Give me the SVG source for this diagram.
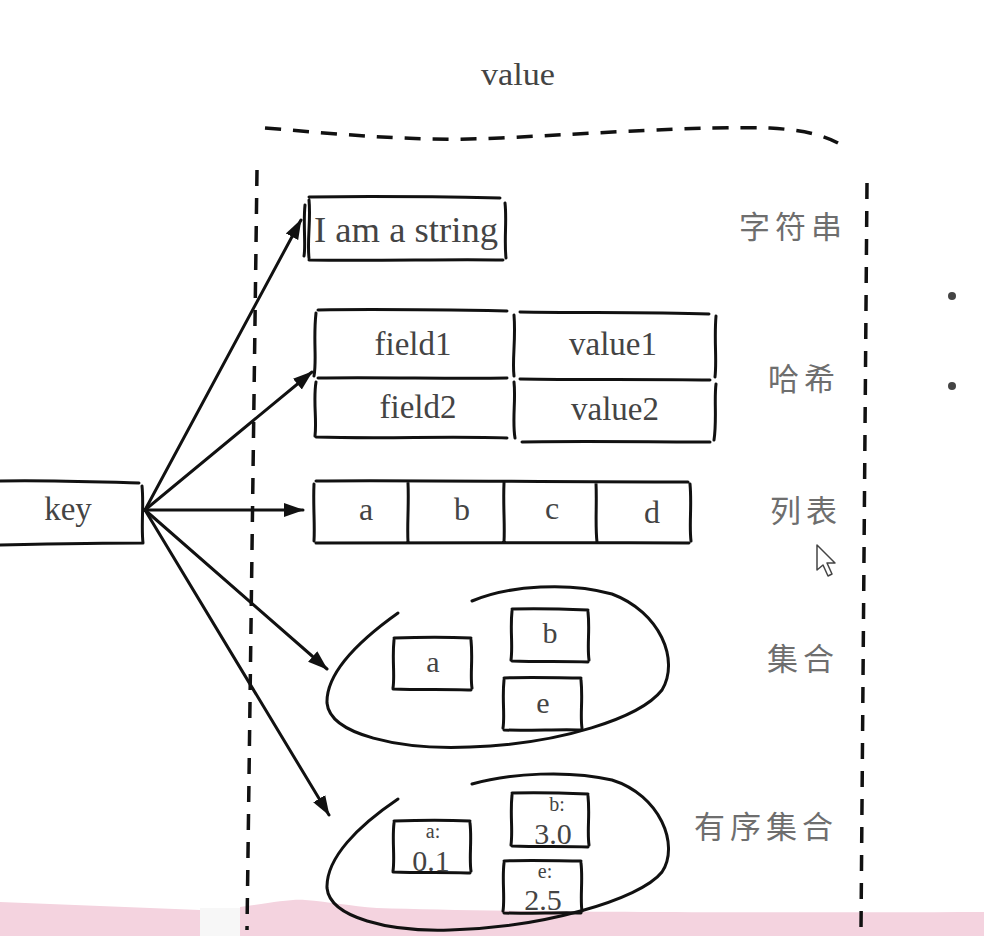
<svg xmlns="http://www.w3.org/2000/svg" width="984" height="936" viewBox="0 0 984 936">
<defs>
<style>
.ln{fill:none;stroke:#111;stroke-width:3;stroke-linecap:round;stroke-linejoin:round}
.ds{fill:none;stroke:#111;stroke-width:3.5;stroke-linecap:butt;stroke-dasharray:16 12}
.en{font-family:"Liberation Serif","DejaVu Serif",serif;fill:#444;text-anchor:middle}
.cn{font-family:"Noto Sans CJK SC","Noto Sans CJK TC",sans-serif;fill:#6e6e6e;font-size:31px;letter-spacing:5px}
.ar{fill:none;stroke:#111;stroke-width:3;stroke-linecap:round}
</style>
<marker id="ah" markerUnits="userSpaceOnUse" markerWidth="20" markerHeight="16" refX="19" refY="8" orient="auto">
<path d="M0,1 L20,8 L0,15 z" fill="#111"/>
</marker>
</defs>
<rect width="984" height="936" fill="#fff"/>
<g id="screen-band">
<path d="M0,902 L200,910 L200,936 L0,936 Z" fill="#f4d3df"/>
<rect x="200" y="908" width="40" height="28" fill="#f7f7f7"/>
<path d="M240,907 C270,903 290,899 305,900 C330,902 350,906 377,908 C500,912 700,913 984,912 L984,936 L240,936 Z" fill="#f4d3df"/>
</g>
<g id="value-frame">
<text class="en" x="518" y="85" font-size="32" textLength="74" lengthAdjust="spacingAndGlyphs">value</text>
<path class="ds" d="M265,128 C350,135 420,142 500,138 C600,133 700,126 770,128 C805,130 825,136 838,143"/>
<path class="ds" d="M257,170 L247,930"/>
<path class="ds" d="M867,183 L861,930"/>
</g>
<g id="key">
<path class="ln" d="M0,481 C50,480 100,482 139,483 M142,486 C144,505 141,525 143,543 M0,545 C50,544 100,543 143,543"/>
<text class="en" x="68" y="520" font-size="33">key</text>
</g>
<g id="string">
<path class="ln" d="M309,197 C380,196 450,197 500,198 M505,203 C507,220 504,240 506,258 M309,260 C380,261 450,259 503,260 M309,200 C311,220 307,240 309,258 M305,205 C303,225 306,245 304,256"/>
<text class="en" x="406" y="242" font-size="36" textLength="184" lengthAdjust="spacingAndGlyphs">I am a string</text>
</g>
<g id="hash">
<path class="ln" d="M318,310 C380,309 450,310 507,311 M520,312 C580,313 650,312 709,314 M318,378 C380,377 450,379 507,378 M520,379 C580,380 650,379 710,380 M316,437 C380,439 450,436 507,438 M522,442 C580,441 650,442 710,442 M316,313 C313,340 317,360 314,376 M316,382 C313,400 317,420 315,436 M514,315 C516,340 512,360 514,376 M514,382 C516,400 512,420 515,438 M716,316 C714,340 717,360 715,377 M716,384 C714,400 717,420 714,440"/>
<text class="en" x="413" y="355" font-size="33">field1</text>
<text class="en" x="613" y="355" font-size="33">value1</text>
<text class="en" x="418" y="418" font-size="33">field2</text>
<text class="en" x="615" y="420" font-size="33">value2</text>
</g>
<g id="list">
<path class="ln" d="M316,481 C400,480 550,482 688,482 M316,543 C400,544 550,542 689,543 M314,484 C313,505 315,525 314,541 M408,483 C409,505 407,525 408,542 M504,483 C503,505 505,525 504,542 M596,483 C597,505 595,525 597,542 M690,484 C692,505 689,525 691,541"/>
<text class="en" x="366" y="520" font-size="32">a</text>
<text class="en" x="462" y="520" font-size="32">b</text>
<text class="en" x="552" y="519" font-size="32">c</text>
<text class="en" x="652" y="523" font-size="32">d</text>
</g>
<g id="set">
<path class="ln" d="M398,613 C360,640 326,672 327,703 C330,735 400,750 470,747 C560,744 640,718 662,690 C680,660 660,612 612,594 C570,582 510,585 472,601"/>
<path class="ln" d="M394,638 C420,637 450,637 471,638 M393,689 C420,690 450,689 471,690 M394,640 C392,660 395,675 393,688 M471,640 C473,660 470,675 472,688 M512,609 C540,608 565,609 588,610 M512,661 C540,662 565,661 588,662 M512,611 C510,630 513,645 511,660 M588,612 C590,630 587,645 589,660 M504,678 C530,677 560,678 581,678 M504,730 C530,731 560,729 581,730 M504,680 C502,700 505,715 503,728 M581,680 C583,700 580,715 582,728"/>
<text class="en" x="433" y="672" font-size="30">a</text>
<text class="en" x="550" y="643" font-size="30">b</text>
<text class="en" x="543" y="713" font-size="30">e</text>
</g>
<g id="zset">
<path class="ln" d="M398,799 C358,826 326,858 327,888 C330,918 390,932 450,930 C540,928 640,900 662,872 C680,845 660,795 612,780 C570,770 510,773 472,784"/>
<path class="ln" d="M394,821 C420,820 450,820 470,821 M393,872 C420,873 450,872 470,873 M394,823 C392,840 395,858 393,871 M470,823 C472,840 469,858 471,871 M512,793 C540,792 565,793 588,794 M512,846 C540,847 565,846 588,847 M512,795 C510,815 513,830 511,845 M588,796 C590,815 587,830 589,845 M504,861 C530,860 560,861 581,861 M504,913 C530,914 560,912 581,913 M504,863 C502,880 505,898 503,911 M581,863 C583,880 580,898 582,911"/>
<text class="en" x="433" y="838" font-size="20">a:</text>
<text class="en" x="431" y="871" font-size="30">0.1</text>
<text class="en" x="557" y="811" font-size="20">b:</text>
<text class="en" x="553" y="844" font-size="30">3.0</text>
<text class="en" x="545" y="878" font-size="20">e:</text>
<text class="en" x="543" y="910" font-size="30">2.5</text>
</g>
<g id="labels">
<text class="cn" x="739" y="238">字符串</text>
<text class="cn" x="768" y="390">哈希</text>
<text class="cn" x="770" y="522">列表</text>
<text class="cn" x="767" y="670">集合</text>
<text class="cn" x="694" y="838">有序集合</text>
</g>
<g id="decor">
<circle cx="952" cy="296" r="4" fill="#444"/>
<circle cx="952" cy="386" r="4" fill="#444"/>
<path d="M817,545 L817,570 L823,565 L828,576 L832,574 L827,563 L835,563 Z" fill="#fff" stroke="#444" stroke-width="1.5" stroke-linejoin="round"/>
</g>
<g id="connectors">
<path class="ar" d="M145,510 L301,220" marker-end="url(#ah)"/>
<path class="ar" d="M145,510 L312,372" marker-end="url(#ah)"/>
<path class="ar" d="M145,510 L303,510" marker-end="url(#ah)"/>
<path class="ar" d="M145,510 L327,669" marker-end="url(#ah)"/>
<path class="ar" d="M145,510 L329,815" marker-end="url(#ah)"/>
</g>
</svg>
